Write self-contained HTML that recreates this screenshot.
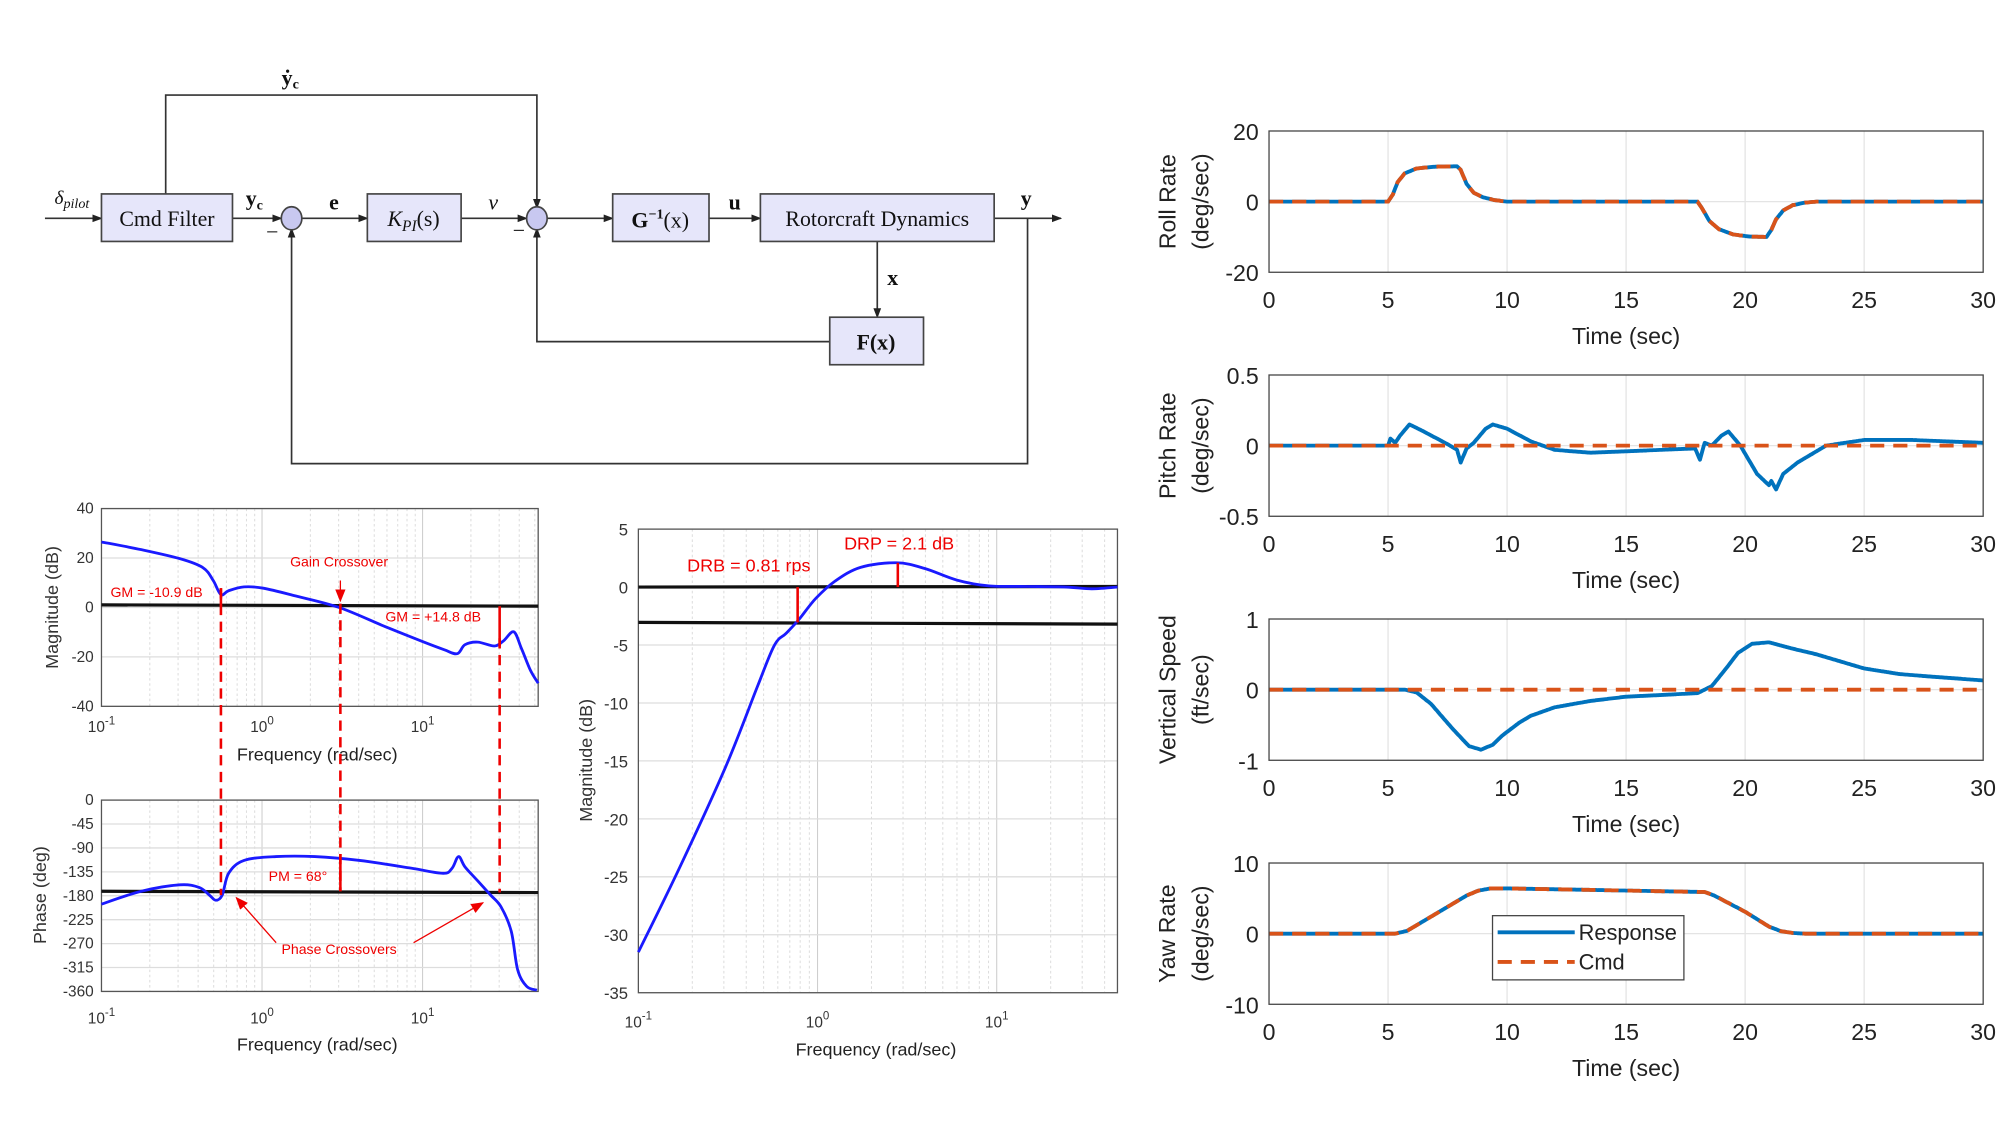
<!DOCTYPE html>
<html><head><meta charset="utf-8"><style>
html,body{margin:0;padding:0;background:#fff;}
svg{display:block;}
text{font-family:"Liberation Sans",Arial,sans-serif;}
.ser{font-family:"Liberation Serif","DejaVu Serif",serif;}
</style></head><body>
<svg id="s" width="2014" height="1125" viewBox="0 0 1568 876" preserveAspectRatio="none" xmlns="http://www.w3.org/2000/svg">
<defs>
<marker id="ar" markerWidth="8" markerHeight="8" refX="7" refY="4" orient="auto" markerUnits="userSpaceOnUse"><path d="M0,1 L8,4 L0,7 z" fill="#222"/></marker>
<marker id="arr" markerWidth="10" markerHeight="10" refX="9" refY="5" orient="auto" markerUnits="userSpaceOnUse"><path d="M0,1 L10,5 L0,9 z" fill="#e00"/></marker>
</defs>
<g stroke="#333" stroke-width="1.3" fill="none">
<line x1="35" y1="170" x2="79" y2="170" marker-end="url(#ar)"/>
<polyline points="129,151 129,74 418,74 418,162" marker-end="url(#ar)"/>
<line x1="181" y1="170" x2="219" y2="170" marker-end="url(#ar)"/>
<line x1="235" y1="170" x2="286" y2="170" marker-end="url(#ar)"/>
<line x1="359" y1="170" x2="410" y2="170" marker-end="url(#ar)"/>
<line x1="426" y1="170" x2="477" y2="170" marker-end="url(#ar)"/>
<line x1="552" y1="170" x2="592" y2="170" marker-end="url(#ar)"/>
<line x1="774" y1="170" x2="826" y2="170" marker-end="url(#ar)"/>
<line x1="683" y1="188" x2="683" y2="247" marker-end="url(#ar)"/>
<polyline points="646,266 418,266 418,178" marker-end="url(#ar)"/>
<polyline points="800,170 800,361 227,361 227,178" marker-end="url(#ar)"/>
</g>
<g fill="#e6e6fa" stroke="#444" stroke-width="1.3">
<rect x="79" y="151" width="102" height="37"/>
<rect x="286" y="151" width="73" height="37"/>
<rect x="477" y="151" width="75" height="37"/>
<rect x="592" y="151" width="182" height="37"/>
<rect x="646" y="247" width="73" height="37"/>
<ellipse cx="227" cy="170" rx="8" ry="9" fill="#c8c8f0"/>
<ellipse cx="418" cy="170" rx="8" ry="9" fill="#c8c8f0"/>
</g>
<g class="ser" font-size="17" fill="#111" text-anchor="middle">
<text x="130" y="176" class="ser">Cmd Filter</text>
<text x="322" y="176" class="ser" font-style="italic">K<tspan font-size="12" dy="4">PI</tspan><tspan dy="-4" font-style="normal">(s)</tspan></text>
<text x="514" y="177" class="ser" font-weight="bold">G<tspan font-size="11" dy="-7">−1</tspan><tspan dy="7" font-weight="normal">(x)</tspan></text>
<text x="683" y="176" class="ser">Rotorcraft Dynamics</text>
<text x="682" y="272" class="ser" font-weight="bold">F(x)</text>
<text x="226" y="66" class="ser" font-weight="bold">ẏ<tspan font-size="11" dy="3">c</tspan></text>
<text x="56" y="159" class="ser" font-style="italic" font-size="15">δ<tspan font-size="11" dy="3">pilot</tspan></text>
<text x="198" y="160" class="ser" font-weight="bold">y<tspan font-size="11" dy="3">c</tspan></text>
<text x="260" y="163" class="ser" font-weight="bold">e</text>
<text x="384" y="163" class="ser" font-style="italic">ν</text>
<text x="572" y="163" class="ser" font-weight="bold">u</text>
<text x="799" y="160" class="ser" font-weight="bold">y</text>
<text x="695" y="222" class="ser" font-weight="bold">x</text>
<text x="212" y="186" class="ser">−</text>
<text x="404" y="185" class="ser">−</text>
</g>
<g id="g"></g>
</svg>
<script>
var g=document.getElementById('g'),NS='http://www.w3.org/2000/svg';
function el(t,a,txt){var e=document.createElementNS(NS,t);for(var k in a)e.setAttribute(k,a[k]);if(txt!==undefined)e.textContent=txt;g.appendChild(e);return e;}
function ln(x1,y1,x2,y2,c,w,d){var a={x1:x1,y1:y1,x2:x2,y2:y2,stroke:c,'stroke-width':w};if(d)a['stroke-dasharray']=d;return el('line',a);}
function tx(x,y,s,sz,anc,col,rot,extra){var a={x:x,y:y,'font-size':sz,'text-anchor':anc||'middle',fill:col||'#222'};if(rot)a.transform='rotate(-90 '+x+' '+y+')';for(var k in extra)a[k]=extra[k];return el('text',a,s);}
function smooth(p){var d='M'+p[0][0]+','+p[0][1];for(var i=0;i<p.length-1;i++){var p0=p[i-1]||p[i],p1=p[i],p2=p[i+1],p3=p[i+2]||p2;var c1=[p1[0]+(p2[0]-p0[0])/6,p1[1]+(p2[1]-p0[1])/6],c2=[p2[0]-(p3[0]-p1[0])/6,p2[1]-(p3[1]-p1[1])/6];d+=' C'+c1[0].toFixed(1)+','+c1[1].toFixed(1)+' '+c2[0].toFixed(1)+','+c2[1].toFixed(1)+' '+p2[0].toFixed(1)+','+p2[1].toFixed(1);}return d;}
function logGrid(x0,dec,x1,y0,y1){for(var e=-1;e<2;e++)for(var m=1;m<10;m++){var x=x0+dec*(e+1+Math.log10(m));if(x>x1)break;if(x<=x0)continue;ln(x,y0,x,y1,m==1?'#ccc':'#ddd',0.8,m==1?null:'2,2');}}
function logLabels(x0,dec,y){for(var e=-1;e<2;e++){var x=x0+dec*(e+1);var t=el('text',{x:x,y:y,'font-size':12,'text-anchor':'middle',fill:'#333'});t.appendChild(document.createTextNode('10'));var ts=document.createElementNS(NS,'tspan');ts.setAttribute('dy','-6');ts.setAttribute('font-size','9');ts.textContent=e==-1?'-1':e;t.appendChild(ts);}}
var BX=79,BD=125,BR=419;
function bodeAxes(y0,y1,ticks){logGrid(BX,BD,BR,y0,y1);for(var i=0;i<ticks.length;i++){var y=y0+(y1-y0)*i/(ticks.length-1);ln(BX,y,BR,y,'#ddd',1);tx(BX-6,y+4,ticks[i],12,'end','#333');}el('rect',{x:BX,y:y0,width:BR-BX,height:y1-y0,fill:'none',stroke:'#555','stroke-width':1});}
bodeAxes(396,550,['40','20','0','-20','-40']);
logLabels(BX,BD,570);
tx(247,592,'Frequency (rad/sec)',14);
tx(45,473,'Magnitude (dB)',14,'middle','#333',1);
ln(BX,471,BR,472,'#111',2.5);
el('path',{d:smooth([[79,422],[110,428],[140,435],[158,442],[166,452],[172,463],[178,460],[190,457],[205,458],[230,464],[264,473],[300,488],[330,500],[346,506],[356,509],[362,502],[372,500],[385,503],[392,499],[400,492],[406,505],[413,522],[419,532]]),stroke:'#1a1aff','stroke-width':2.2,fill:'none'});
bodeAxes(623,772,['0','-45','-90','-135','-180','-225','-270','-315','-360']);
logLabels(BX,BD,797);
tx(247,818,'Frequency (rad/sec)',14);
tx(36,697,'Phase (deg)',14,'middle','#333',1);
ln(BX,694,BR,695,'#111',2.5);
el('path',{d:smooth([[79,704],[110,694],[140,689],[155,691],[163,697],[168,701],[173,697],[178,680],[190,670],[215,667],[245,667],[280,670],[320,676],[345,680],[352,676],[357,667],[362,675],[372,686],[382,697],[390,706],[398,725],[403,755],[410,768],[418,771]]),stroke:'#1a1aff','stroke-width':2.2,fill:'none'});
ln(172,458,172,697,'#e00',2,'8,5');ln(265,470,265,694,'#e00',2,'8,5');ln(389,497,389,695,'#e00',2,'8,5');
ln(172,458,172,472,'#e00',2);ln(389,472,389,503,'#e00',2);ln(265,665,265,694,'#e00',2);
ln(265,452,265,468,'#e00',1,null).setAttribute('marker-end','url(#arr)');
tx(86,465,'GM = -10.9 dB',11,'start','#e00');tx(264,441,'Gain Crossover',11,'middle','#e00');tx(300,484,'GM = +14.8 dB',11,'start','#e00');
tx(232,686,'PM = 68°',11,'middle','#e00');tx(264,743,'Phase Crossovers',11,'middle','#e00');
ln(215,734,184,699,'#e00',1).setAttribute('marker-end','url(#arr)');
ln(322,734,376,703,'#e00',1).setAttribute('marker-end','url(#arr)');
var MX=497,MD=139.5,MR=870,MT=412,MB=773;
logGrid(MX,MD,MR,MT,MB);
var mt=['5','0','-5','-10','-15','-20','-25','-30','-35'];
for(var i=0;i<9;i++){var y=MT+(MB-MT)*i/8;ln(MX,y,MR,y,'#ddd',1);tx(MX-8,y+5,mt[i],13,'end','#333');}
el('rect',{x:MX,y:MT,width:MR-MX,height:MB-MT,fill:'none',stroke:'#555','stroke-width':1});
logLabels(MX,MD,800);tx(682,822,'Frequency (rad/sec)',14);tx(461,592,'Magnitude (dB)',14,'middle','#333',1);
function my(v){return MT+(5-v)*(MB-MT)/40;}
ln(MX,my(0),MR,my(0.05),'#111',2.5);ln(MX,my(-3.05),MR,my(-3.2),'#111',2.5);
el('path',{d:smooth([[497,my(-31.5)],[530,my(-24)],[565,my(-15.5)],[590,my(-8.5)],[603,my(-5)],[612,my(-4)],[622,my(-2.8)],[635,my(-1)],[650,my(0.5)],[670,my(1.7)],[698,my(2.1)],[720,my(1.6)],[745,my(0.6)],[770,my(0.1)],[800,my(0.05)],[830,my(0)],[850,my(-0.15)],[870,my(0)]]),stroke:'#1a1aff','stroke-width':2.2,fill:'none'});
ln(621,my(0),621,my(-3.05),'#e00',2);ln(699,my(2.1),699,my(0),'#e00',2);
tx(583,445,'DRB = 0.81 rps',14,'middle','#e00');tx(700,428,'DRP = 2.1 dB',14,'middle','#e00');
var TX=988,TR=1544,H=110;
var plots=[{y:102,t:['20','0','-20'],l:['Roll Rate','(deg/sec)'],r:20},{y:292,t:['0.5','0','-0.5'],l:['Pitch Rate','(deg/sec)'],r:0.5},{y:482,t:['1','0','-1'],l:['Vertical Speed','(ft/sec)'],r:1},{y:672,t:['10','0','-10'],l:['Yaw Rate','(deg/sec)'],r:10}];
function interp(pts,t){if(t<=pts[0][0])return pts[0][1];for(var i=1;i<pts.length;i++){if(t<=pts[i][0]){var a=pts[i-1],b=pts[i];var u=(t-a[0])/(b[0]-a[0]);return a[1]+(b[1]-a[1])*u;}}return pts[pts.length-1][1];}
var roll=[[0,0],[5,0],[5.2,2],[5.4,5.5],[5.7,8],[6.2,9.4],[7,9.9],[7.9,10],[8.05,9],[8.3,5],[8.6,2.5],[9,1.2],[9.5,0.4],[10,0],[18,0],[18.2,-2],[18.5,-5.5],[18.9,-7.8],[19.5,-9.3],[20.2,-9.9],[20.9,-10],[21.1,-8],[21.3,-5],[21.6,-2.5],[22,-1],[22.5,-0.3],[23,0],[30,0]];
var pitch=[[0,0],[5,0],[5.1,0.05],[5.3,0.02],[5.5,0.07],[5.9,0.15],[6.5,0.1],[7.5,0.01],[7.9,-0.03],[8.05,-0.12],[8.3,-0.02],[8.6,0.02],[9.1,0.12],[9.4,0.15],[10,0.12],[11,0.03],[12,-0.03],[13.5,-0.05],[15,-0.04],[17.9,-0.02],[18.1,-0.1],[18.3,0.02],[18.6,0],[19,0.07],[19.3,0.1],[19.8,0],[20.5,-0.2],[21,-0.28],[21.1,-0.25],[21.3,-0.31],[21.6,-0.2],[22.2,-0.12],[23.4,0],[25,0.04],[27,0.04],[30,0.02]];
var vert=[[0,0],[5.7,0],[6.2,-0.04],[6.8,-0.2],[7.7,-0.55],[8.4,-0.8],[8.9,-0.85],[9.4,-0.78],[9.8,-0.65],[10.5,-0.47],[11,-0.37],[12,-0.25],[13.5,-0.16],[15,-0.1],[18,-0.05],[18.6,0.05],[19.2,0.3],[19.7,0.52],[20.3,0.65],[21,0.67],[22,0.58],[23,0.5],[24,0.4],[25,0.3],[26.5,0.22],[28,0.18],[30,0.13]];
var yaw=[[0,0],[5.3,0],[5.8,0.4],[6.5,1.8],[7.5,3.8],[8.3,5.4],[8.8,6.1],[9.3,6.4],[10,6.4],[15,6.1],[18.3,5.9],[18.7,5.4],[20,3.1],[21,1],[21.5,0.35],[22,0.1],[22.5,0],[30,0]];
var resp=[roll,pitch,vert,yaw],cmds=[roll,[[0,0],[30,0]],[[0,0],[30,0]],yaw];
plots.forEach(function(p,k){
 var y0=p.y,y1=p.y+H,ym=p.y+H/2;
 for(var i=0;i<=6;i++){var x=TX+(TR-TX)*i/6;if(i>0&&i<6)ln(x,y0,x,y1,'#e4e4e4',1);tx(x,y1+28,String(i*5),18,'middle','#222');}
 ln(TX,ym,TR,ym,'#e4e4e4',1);
 tx(TX-8,y0+7,p.t[0],18,'end');tx(TX-8,ym+7,p.t[1],18,'end');tx(TX-8,y1+7,p.t[2],18,'end');
 tx(1266,y1+56,'Time (sec)',18);
 tx(915,ym,p.l[0],18,'middle','#222',1);tx(941,ym,p.l[1],18,'middle','#222',1);
 function sy(v){return ym-v/p.r*(H/2);}
 var d='',dc='';
 for(var t=0;t<=30.001;t+=0.05){var x=TX+t/30*(TR-TX);d+=(t==0?'M':'L')+x.toFixed(1)+','+sy(interp(resp[k],t)).toFixed(1)+' ';dc+=(t==0?'M':'L')+x.toFixed(1)+','+sy(interp(cmds[k],t)).toFixed(1)+' ';}
 el('path',{d:d,stroke:'#0072BD','stroke-width':3,fill:'none','stroke-linejoin':'round'});
 el('path',{d:dc,stroke:'#D95319','stroke-width':3,fill:'none','stroke-dasharray':'11,7'});
 el('rect',{x:TX,y:y0,width:TR-TX,height:H,fill:'none',stroke:'#444','stroke-width':1});
});
el('rect',{x:1162,y:713,width:149,height:50,fill:'#fff',stroke:'#444','stroke-width':1});
ln(1166,726,1226,726,'#0072BD',3);ln(1166,749,1226,749,'#D95319',3,'11,7');
tx(1229,732,'Response',17,'start');tx(1229,755,'Cmd',17,'start');
</script>
</body></html>
